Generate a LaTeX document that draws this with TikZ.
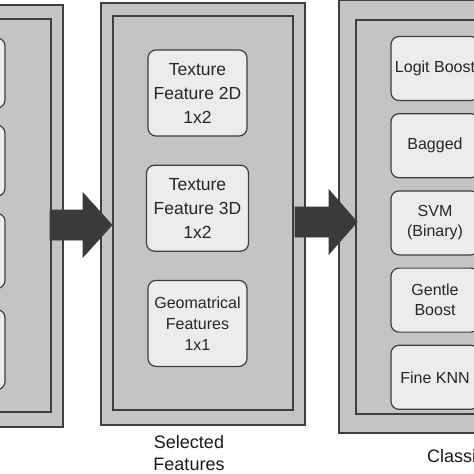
\documentclass[tikz,border=0pt]{standalone}
\usepackage{fontspec}
\setmainfont{Liberation Sans}
\usetikzlibrary{positioning}

\definecolor{panelgray}{RGB}{196,196,196}
\definecolor{boxgray}{RGB}{236,236,236}
\definecolor{edgegray}{RGB}{62,62,62}
\definecolor{arrowgray}{RGB}{58,58,58}

\begin{document}
\begin{tikzpicture}[x=1pt, y=-1pt, node distance=28pt,
    panel/.style={draw=edgegray, fill=panelgray, line width=1.2pt, rectangle, inner sep=0pt, minimum width=204pt, minimum height=422pt},
    inpanel/.style={panel, minimum width=180pt, minimum height=394pt},
    featbox/.style={draw=edgegray, fill=boxgray, line width=1.2pt, rectangle, rounded corners=8pt, align=center, inner sep=0pt, minimum width=99pt, minimum height=86pt, text=black!85, font=\fontsize{17.5}{24}\selectfont},
    clfbox/.style={featbox, minimum width=88pt, minimum height=64pt, font=\fontsize{16}{20}\selectfont},
    blockarrow/.style={draw=arrowgray, fill=arrowgray, line width=0.8pt, line join=miter},
    caption/.style={align=center, inner sep=0pt, text=black!90, font=\fontsize{18}{22}\selectfont}]
    \useasboundingbox (0,0) rectangle (474,474);
    \clip (0,0) rectangle (474,474);

    % panels
    \node[panel] (leftout) at (-39,216) {};
    \node[inpanel, minimum height=393pt] (leftin) at (-39,215.5) {};
    \node[panel] (midout) at (203,214) {};
    \node[inpanel] (midin) at (203,213) {};
    \node[panel, minimum height=433pt] (rightout) at (441,216.5) {};
    \node[inpanel] (rightin) at (446,217) {};

    % input column (cut off at the left)
    \node[featbox, minimum height=70pt] (inA) at (-44.5,73) {};
    \node[featbox, minimum height=71pt, below=16pt of inA] (inB) {};
    \node[featbox, minimum height=75pt, below=16pt of inB] (inC) {};
    \node[featbox, minimum height=80pt, below=20pt of inC] (inD) {};

    % selected features
    \node[featbox] (tex2d) at (197.5,93) {Texture\\Feature 2D\\1x2};
    \node[featbox, minimum width=102pt, below=of tex2d] (tex3d) {Texture\\Feature 3D\\1x2};
    \node[featbox, font=\fontsize{16}{21}\selectfont, below=of tex3d] (geom) {Geomatrical\\Features\\1x1};

    % classifiers
    \node[clfbox] (logit) at (435,68.5) {Logit Boost};
    \node[clfbox, below=12pt of logit] (bagged) {Bagged};
    \node[clfbox, below=12pt of bagged] (svm) {SVM\\(Binary)};
    \node[clfbox, below=12pt of svm] (gentle) {Gentle\\Boost};
    \node[clfbox, below=12pt of gentle] (fknn) {Fine KNN};

    % arrows between the stages
    \coordinate (arrA) at (50,225);
    \coordinate (arrB) at (295,222);
    \draw[blockarrow] (arrA) ++(0,-15) -- ++(33,0) -- ++(0,-17) -- ++(29,32) -- ++(-29,32) -- ++(0,-17) -- ++(-33,0) -- cycle;
    \draw[blockarrow] (arrB) ++(0,-15) -- ++(34,0) -- ++(0,-17) -- ++(28,32) -- ++(-28,32) -- ++(0,-17) -- ++(-34,0) -- cycle;

    \node[caption, anchor=north] (selcap) at (189,435) {Selected\\Features};
    \node[caption, anchor=base west] (clscap) at (427,462) {Classifiers};
\end{tikzpicture}
\end{document}
